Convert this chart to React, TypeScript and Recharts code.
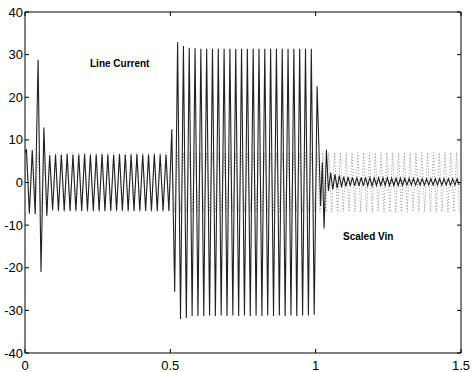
import React from "react";
import { LineChart, Line, XAxis, YAxis } from "recharts";

// 50 Hz half-cycle extremes of the line current, first at t = 0.005 s, one every 0.01 s
const currentStartup = [
  7.8, -7.3, 7.6, -7.4, 28.8, -21.0, 12.9, -7.8, 6.3, -6.4,
  6.5, -6.6, 6.5, -6.6, 6.6, -6.6, 6.5, -6.6, 6.5, -6.6,
  6.6, -6.6, 6.5, -6.6, 6.5, -6.6, 6.6, -6.6, 6.5, -6.6,
  6.5, -6.6, 6.6, -6.6, 6.5, -6.6, 6.5, -6.6, 6.6, -6.6,
  6.5, -6.6, 6.5, -6.6, 6.6, -6.6, 6.5, -6.6, 6.5, -6.6,
];
const currentMiddle = [
  12.5, -25.6, 32.9, -32.0, 32.0, -31.8, 31.6, -31.4, 31.5, -31.3,
  31.4, -31.3, 31.4, -31.2, 31.4, -31.3, 31.4, -31.2, 31.4, -31.3,
  31.4, -31.2, 31.4, -31.3, 31.4, -31.2, 31.4, -31.3, 31.4, -31.2,
  31.4, -31.3, 31.4, -31.2, 31.4, -31.3, 31.4, -31.2, 31.4, -31.3,
  31.4, -31.2, 31.4, -31.3, 31.4, -31.2, 31.4, -31.2, 31.4, -31.0,
  22.6,
];
// fast transient after the switch at t = 1
const transientT = [1.017, 1.023, 1.029, 1.037];
const transientI = [-5.5, 4.7, -10.8, 7.7];
// small ringing, first extreme at t = 1.044, one every 0.0075 s
const currentTail = [
  -2.0, 2.3, -1.6, 1.9, -1.3, 1.6, -1.1, 1.4, -0.9, 1.3,
  -0.8, 1.2, -0.8, 1.2, -0.8, 1.2, -0.8, 1.2, -0.8, 1.1,
  -0.8, 1.1, -0.7, 1.1, -0.7, 1.1, -0.7, 1.1, -0.7, 1.0,
  -0.7, 1.0, -0.7, 1.0, -0.7, 1.0, -0.6, 1.0, -0.6, 1.0,
  -0.6, 0.9, -0.6, 0.9, -0.6, 0.9, -0.6, 0.9, -0.6, 0.9,
  -0.6, 0.9, -0.6, 0.9, -0.6, 0.9, -0.6, 0.9, -0.6, 0.9,
  -0.6,
];
// scaled input voltage, 50 Hz extremes, first at t = 0.005 s
const vinPeaks = [
  7.0, -6.9, 7.0, -6.9, 7.0, -6.9, 7.0, -6.9, 7.0, -6.9,
  7.0, -6.9, 7.0, -6.9, 7.0, -6.9, 7.0, -6.9, 7.0, -6.9,
  7.0, -6.9, 7.0, -6.9, 7.0, -6.9, 7.0, -6.9, 7.0, -6.9,
  7.0, -6.9, 7.0, -6.9, 7.0, -6.9, 7.0, -6.9, 7.0, -6.9,
  7.0, -6.9, 7.0, -6.9, 7.0, -6.9, 7.0, -6.9, 7.0, -6.9,
  7.0, -6.9, 7.0, -6.9, 7.0, -6.9, 7.0, -6.9, 7.0, -6.9,
  7.0, -6.9, 7.0, -6.9, 7.0, -6.9, 7.0, -6.9, 7.0, -6.9,
  7.0, -6.9, 7.0, -6.9, 7.0, -6.9, 7.0, -6.9, 7.0, -6.9,
  7.0, -6.9, 7.0, -6.9, 7.0, -6.9, 7.0, -6.9, 7.0, -6.9,
  7.0, -6.9, 7.0, -6.9, 7.0, -6.9, 7.0, -6.9, 7.0, -6.9,
  7.0, -6.9, 7.0, -6.9, 7.0, -6.9, 7.0, -6.9, 7.0, -6.9,
  7.0, -6.9, 7.0, -6.9, 7.0, -6.9, 7.0, -6.9, 7.0, -6.9,
  7.0, -6.9, 7.0, -6.9, 7.0, -6.9, 7.0, -6.9, 7.0, -6.9,
  7.0, -6.9, 7.0, -6.9, 7.0, -6.9, 7.0, -6.9, 7.0, -6.9,
  7.0, -6.9, 7.0, -6.9, 7.0, -6.9, 7.0, -6.9, 7.0, -6.9,
];
const xTicks = [0, 0.5, 1, 1.5];
const yTicks = [-40, -30, -20, -10, 0, 10, 20, 30, 40];

const currentData = [
  { t: 0, v: 7.0 },
  ...[...currentStartup, ...currentMiddle].map((v, k) => ({ t: 0.005 + 0.01 * k, v })),
  ...transientT.map((t, i) => ({ t, v: transientI[i] })),
  ...currentTail.map((v, k) => ({ t: 1.044 + 0.0075 * k, v })),
];
const vinData = [{ t: 0, v: 0 }, ...vinPeaks.map((v, k) => ({ t: 0.005 + 0.01 * k, v }))];

const font = { fontFamily: "'Liberation Sans', Arial, sans-serif", fontSize: 13, fill: "#000" };
const blank = () => "";

export default function App() {
  return (
    <div style={{ position: "absolute", left: 0, top: 0, width: 474, height: 372, background: "#fff" }}>
      <LineChart width={474} height={372} margin={{ top: 11, right: 12, bottom: 0, left: 0 }}>
        <XAxis
          dataKey="t"
          type="number"
          domain={[0, 1.5]}
          ticks={xTicks}
          height={19}
          tickSize={-4}
          tickMargin={12}
          tick={font}
          stroke="#000"
          allowDataOverflow
        />
        {/* same scale on top, so the box is closed with inward ticks */}
        <XAxis
          xAxisId="top"
          dataKey="t"
          orientation="top"
          type="number"
          domain={[0, 1.5]}
          ticks={xTicks}
          height={1}
          tickSize={-4}
          tickMargin={0}
          tick={{ fontSize: 1, fill: "none" }}
          tickFormatter={blank}
          stroke="#000"
          allowDataOverflow
        />
        <YAxis
          type="number"
          domain={[-40, 40]}
          ticks={yTicks}
          width={25}
          tickSize={-4}
          tickMargin={6}
          tick={font}
          stroke="#000"
          allowDataOverflow
        />
        <YAxis
          yAxisId="right"
          orientation="right"
          type="number"
          domain={[-40, 40]}
          ticks={yTicks}
          width={1}
          tickSize={-4}
          tickMargin={0}
          tick={{ fontSize: 1, fill: "none" }}
          tickFormatter={blank}
          stroke="#000"
          allowDataOverflow
        />
        <Line
          data={vinData}
          xAxisId="top"
          yAxisId="right"
          dataKey="v"
          type="linear"
          stroke="#777"
          strokeWidth={0.8}
          strokeDasharray="1 2"
          dot={false}
          isAnimationActive={false}
        />
        <Line
          data={currentData}
          dataKey="v"
          type="linear"
          stroke="#222"
          strokeWidth={1.1}
          dot={false}
          isAnimationActive={false}
        />
      </LineChart>
      <div style={{ position: "absolute", left: 90, top: 58, fontFamily: "'Liberation Sans', Arial, sans-serif", fontSize: 10, fontWeight: "bold" }}>
        Line Current
      </div>
      <div style={{ position: "absolute", left: 343, top: 231, fontFamily: "'Liberation Sans', Arial, sans-serif", fontSize: 10, fontWeight: "bold" }}>
        Scaled Vin
      </div>
    </div>
  );
}
